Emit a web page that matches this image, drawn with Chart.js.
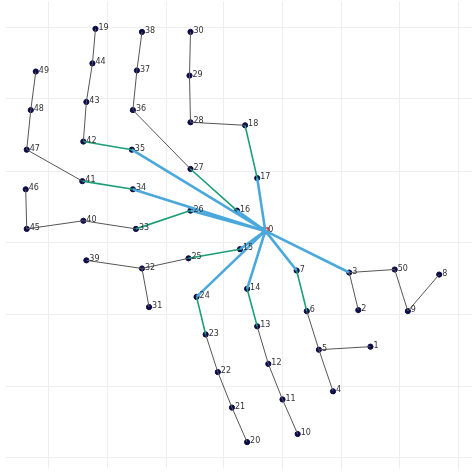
<!DOCTYPE html>
<html>
<head>
<meta charset="utf-8">
<script src="https://cdn.jsdelivr.net/npm/chart.js@4/dist/chart.umd.min.js"></script>
<style>
  html, body { margin:0; padding:0; background:#fff; }
  #wrap { width:474px; height:474px; }
</style>
</head>
<body>
<div id="wrap"><canvas id="graph"></canvas></div>
<script>
// node positions
const nodeIds = [0,1,2,3,4,5,6,7,8,9,10,11,12,13,14,15,16,17,18,19,20,21,22,23,24,25,26,27,28,29,30,31,32,33,34,35,36,37,38,39,40,41,42,43,44,45,46,47,48,49,50];
const nodeX = [265,369,357,348,332,318,306,296,437,406,297,282,268,257,247,240,237,257,245,97,247,232,218,206,197,189,191,191,191,190,191,150,143,137,134,133,134,138,143,88,85,84,85,88,94,29,28,29,33,38,393];
const nodeY = [232,346,310,273,390,349,311,271,275,311,432,398,363,326,289,250,212,180,128,33,440,406,371,334,297,259,212,171,125,79,36,307,269,230,191,152,113,74,36,261,222,183,144,105,67,230,191,152,113,75,270];

// edges: depot legs, second legs, the rest
const firstLegs = [[0,16],[0,17],[0,35],[0,34],[0,26],[0,15],[0,24],[0,14],[0,7],[0,3]];
const secondLegs = [[16,27],[17,18],[35,42],[34,41],[26,33],[15,25],[24,23],[14,13],[7,6]];
const otherLegs = [[27,36],[36,37],[37,38],[18,28],[28,29],[29,30],[42,43],[43,44],[44,19],
  [41,47],[47,48],[48,49],[33,40],[40,45],[45,46],[25,32],[32,39],[32,31],
  [23,22],[22,21],[21,20],[13,12],[12,11],[11,10],[6,5],[5,4],[5,1],
  [3,2],[3,50],[50,9],[9,8]];

const gridX = [51,109,167,224,282,340,398,456];
const gridY = [32,102,173,243,314,385,455];

const pt = i => ({ x: nodeX[nodeIds.indexOf(i)], y: nodeY[nodeIds.indexOf(i)] });

const datasets = [];
function addEdges(list, color, width) {
  list.forEach(([a, b]) => datasets.push({
    data: [pt(a), pt(b)], showLine: true, borderColor: color, borderWidth: width,
    pointRadius: 0, pointHoverRadius: 0
  }));
}
addEdges(otherLegs, '#555555', 1);
addEdges(secondLegs, '#1a9e77', 1.6);
addEdges(firstLegs, '#4aa8dc', 2.6);

datasets.push({
  data: nodeIds.slice(1).map(pt), pointRadius: 2.6, pointBackgroundColor: '#0b0b4a',
  pointBorderColor: '#0b0b4a', showLine: false
});
datasets.push({
  data: [pt(0)], pointStyle: 'rect', pointRadius: 4, pointBackgroundColor: '#fff',
  pointBorderColor: '#d62728', pointBorderWidth: 1.5, showLine: false
});

const labelPlugin = {
  id: 'nodeLabels',
  afterDatasetsDraw(chart) {
    const c = chart.ctx, xs = chart.scales.x, ys = chart.scales.y;
    c.save();
    c.font = '8px "DejaVu Sans"';
    c.fillStyle = '#333';
    c.textBaseline = 'middle';
    nodeIds.forEach((id, i) => {
      c.fillText(String(id), xs.getPixelForValue(nodeX[i]) + 3, ys.getPixelForValue(nodeY[i]) - 1);
    });
    c.restore();
  }
};

new Chart(document.getElementById('graph'), {
  type: 'scatter',
  data: { datasets },
  options: {
    responsive: true, maintainAspectRatio: false, animation: false,
    layout: { padding: 0 },
    plugins: { legend: { display: false }, tooltip: { enabled: false } },
    scales: {
      x: {
        min: 8, max: 466, position: 'top',
        afterBuildTicks: s => { s.ticks = gridX.map(v => ({ value: v })); },
        ticks: { display: false },
        grid: { color: '#eeeeee', tickLength: 4 },
        border: { display: false }
      },
      y: {
        min: 10, max: 466, reverse: true, position: 'right',
        afterBuildTicks: s => { s.ticks = gridY.map(v => ({ value: v })); },
        ticks: { display: false },
        grid: { color: '#eeeeee', tickLength: 4 },
        border: { display: false }
      }
    }
  },
  plugins: [labelPlugin]
});
</script>
</body>
</html>
